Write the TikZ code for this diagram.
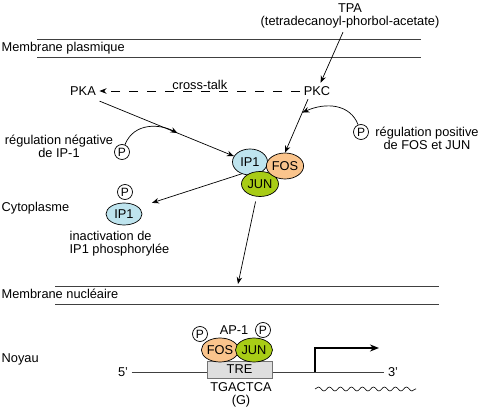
\documentclass[tikz,border=0pt]{standalone}
\usepackage{fontspec}
\setmainfont{Liberation Sans}
\usetikzlibrary{shapes.geometric,arrows.meta,decorations.pathmorphing}

\definecolor{ipblue}{RGB}{190,228,238}
\definecolor{fosorange}{RGB}{250,196,140}
\definecolor{jungreen}{RGB}{168,204,22}
\definecolor{tregray}{RGB}{222,222,222}

\begin{document}
\begin{tikzpicture}[x=1pt,y=-1pt,font=\fontsize{12.8}{13.5}\selectfont,
		>={Stealth[length=7pt,width=5.5pt]},line width=0.7pt,
		prot/.style={ellipse,draw=black,inner sep=0pt,minimum width=36pt,minimum height=26pt},
		phos/.style={circle,draw=black,fill=white,inner sep=0pt,minimum size=15pt,font=\fontsize{12}{13}\selectfont},
		membrane/.style={draw=black!75,line width=0.8pt}]
	\useasboundingbox (0,0) rectangle (480,409);

	% Draw the plasma membrane
	\draw[membrane] (37,39) -- (421,39);
	\draw[membrane] (37,57.5) -- (421,57.5);
	\node[anchor=west] (mplasm) at (-2,48) {Membrane plasmique};

	% TPA and the two kinases
	\node[align=center] (tpa) at (350,16) {TPA\\(tetradecanoyl-phorbol-acetate)};
	\node (pkc) at (317,91) {PKC};
	\node (pka) at (83,91) {PKA};
	\draw[->] ([xshift=-7pt]tpa.south) -- (pkc);
	\draw[->,dash pattern=on 9pt off 9pt] (pkc) -- (pka) node[midway,above,inner sep=1pt] (xtalk) {cross-talk};

	% Define the IP1 / FOS / JUN complex
	\node[prot,fill=ipblue,minimum width=35pt] (ip1) at (250,162) {IP1};
	\node[prot,fill=jungreen,minimum width=37pt,minimum height=25pt] (jun) at (260,184) {JUN};
	\node[prot,fill=fosorange] (fos) at (285,166) {FOS};

	\draw[->] ([yshift=-2pt]pka.south east) -- (ip1.160) coordinate[pos=0.58] (negtip);
	\draw[->] ([xshift=-9pt]pkc.south) -- (fos.north) coordinate[pos=0.25] (postip);

	% Phosphorylation feedback
	\node[phos] (pneg) at (122,152) {P};
	\node[align=center] (negtxt) at (59,146.5) {régulation négative\\de IP-1};
	\draw[->] (pneg) .. controls (134,122) and (160,124) .. (negtip);

	\node[phos] (ppos) at (361,132) {P};
	\node[align=center] (postxt) at (427,138.5) {régulation positive\\de FOS et JUN};
	\draw[->] (ppos) .. controls (350,104) and (326,102) .. (postip);

	% Phosphorylated IP1 in the cytoplasm
	\node[anchor=west] (cyto) at (-2,208) {Cytoplasme};
	\node[prot,fill=ipblue,minimum width=36pt,minimum height=22pt] (ip1p) at (124,214) {IP1};
	\node[phos] (pip1) at (125,192) {P};
	\node[align=left,anchor=west] (inact) at (66,243.5) {inactivation de\\IP1 phosphorylée};
	\draw[->,shorten >=14pt] (ip1.235) -- (ip1p.25);

	% Draw the nuclear membrane
	\draw[membrane] (55,286) -- (439,286);
	\draw[membrane] (55,304) -- (439,304);
	\node[anchor=west] (mnuc) at (-2,294) {Membrane nucléaire};
	\coordinate (nucin) at (238,284);
	\draw[->,shorten <=5pt] (jun.255) -- (nucin);

	% Nucleus: AP-1 bound on the TRE
	\node[anchor=west] (noyau) at (-2,359) {Noyau};
	\node (five) at (123,372) {5'};
	\node (three) at (393,372) {3'};
	\draw[black!75] (five) -- (three);
	\node[draw=black!55,fill=tregray,minimum width=65pt,minimum height=17pt,inner sep=0pt] (tre) at (239.5,369.5) {TRE};
	\node[prot,fill=fosorange,minimum width=35pt,minimum height=24pt] (fosn) at (220,350) {FOS};
	\node[prot,fill=jungreen,minimum width=37pt,minimum height=24pt] (junn) at (254,350) {JUN};
	\node[phos] (pfos) at (200,334) {P};
	\node[phos] (pjun) at (263,330) {P};
	\node (ap1) at (234,330) {AP-1};
	\node[align=center] (seq) at (241,395) {TGACTCA\\(G)};

	% Transcription start and mRNA
	\coordinate (tss) at (315,372);
	\coordinate (tssend) at (379,348);
	\draw[->,line width=2pt,>={Stealth[length=9pt,width=7pt]}] (tss) |- (tssend);
	\coordinate (mrnaA) at (315,389);
	\coordinate (mrnaB) at (416,389);
	\draw[line width=0.6pt,decorate,decoration={snake,segment length=11pt,amplitude=2pt}] (mrnaA) -- (mrnaB);
\end{tikzpicture}
\end{document}
